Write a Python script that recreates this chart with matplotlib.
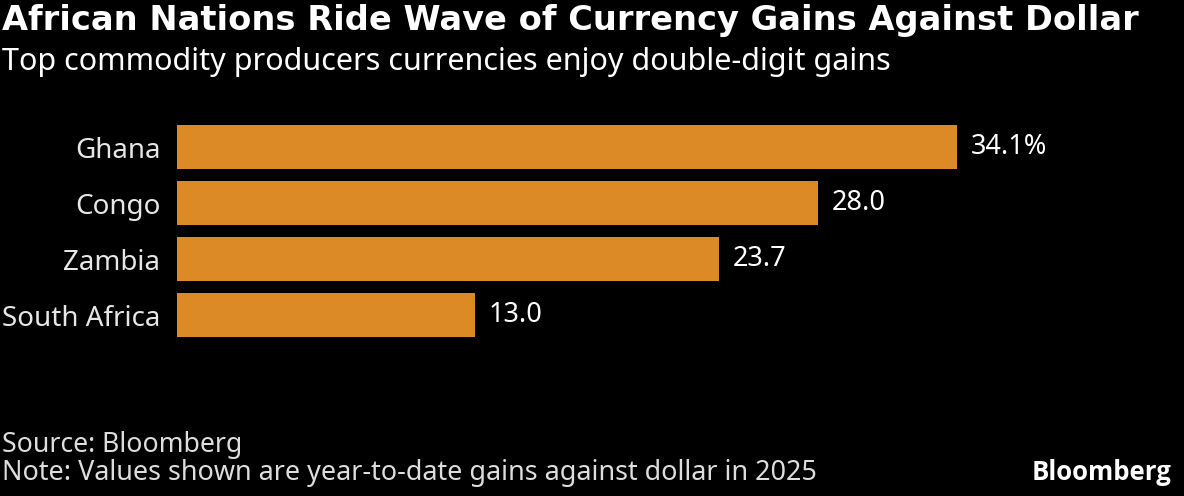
import matplotlib.pyplot as plt

countries = ["Ghana", "Congo", "Zambia", "South Africa"]
gains = [34.1, 28.0, 23.7, 13.0]
value_labels = ["34.1%", "28.0", "23.7", "13.0"]

title = "African Nations Ride Wave of Currency Gains Against Dollar"
subtitle = "Top commodity producers currencies enjoy double-digit gains"
source = "Source: Bloomberg"
note = "Note: Values shown are year-to-date gains against dollar in 2025"

plt.rcParams['font.family'] = ['Noto Sans', 'DejaVu Sans']

fig = plt.figure(figsize=(11.84, 4.96), dpi=100, facecolor='black')
ax = fig.add_axes([177/1184, 1 - 343/496, 1007/1184, 224/496])
ax.set_facecolor('black')

ypos = range(len(countries))
ax.barh(ypos, gains, height=0.786, color='#DC8A26')
for y, v, lab in zip(ypos, gains, value_labels):
    ax.text(v + 0.6, y, lab, color='white', fontsize=19.5, va='center', ha='left')

ax.set_xlim(0, 44)
ax.set_ylim(3.5, -0.5)
ax.set_yticks(list(ypos))
ax.set_yticklabels(countries, color='#e6e6e6', fontsize=20)
ax.tick_params(axis='y', length=0, pad=12)
ax.set_xticks([])
for s in ax.spines.values():
    s.set_visible(False)

fig.text(2/1184, 1 - 4/496, title, color='white', fontsize=24.2, fontweight='bold',
         family='DejaVu Sans', va='top', ha='left')
fig.text(2/1184, 1 - 47/496, subtitle, color='white', fontsize=22, va='top', ha='left')
fig.text(2/1184, 1 - 431/496, source, color='#dddddd', fontsize=19.2, va='top', ha='left')
fig.text(2/1184, 1 - 459/496, note, color='#dddddd', fontsize=19.4, va='top', ha='left')
fig.text(1172/1184, 1 - 459/496, "Bloomberg", color='white', fontsize=18.5, fontweight='bold',
         family='Open Sans', va='top', ha='right')

fig.savefig("out.png", dpi=100, facecolor='black')
